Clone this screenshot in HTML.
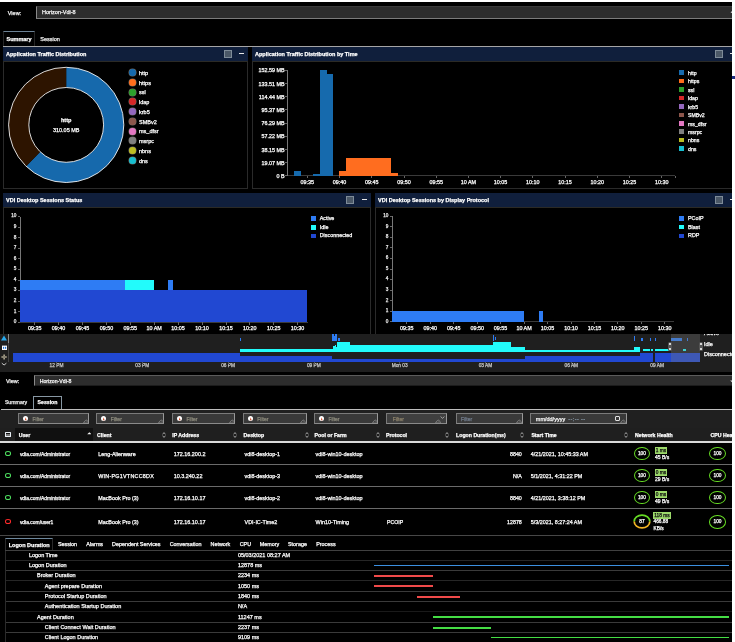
<!DOCTYPE html>
<html><head><meta charset="utf-8"><title>Horizon VDI</title>
<style>
html,body{margin:0;padding:0;background:#000;}
body{width:735px;height:642px;overflow:hidden;position:relative;font-family:'Liberation Sans', Arial, sans-serif;}
.t{position:absolute;white-space:nowrap;-webkit-text-stroke:0.25px currentColor;}
.r{position:absolute;}
</style></head><body>
<div class="t" style="top:9.33px;font-size:5.5px;line-height:8px;color:#f2f2f2;left:7.80px;">View:</div>
<div class="r" style="left:36.00px;top:6.00px;width:696.00px;height:13.00px;background:#2d2d2d;border-left:1px solid #8a8a8a;border-bottom:1px solid #7c7c7c;border-top:1px solid #3a3a3a;box-sizing:border-box;"></div>
<div class="t" style="top:8.03px;font-size:5.5px;line-height:8px;color:#f4f4f4;left:42.00px;">Horizon-Vdi-8</div>
<div class="r" style="left:3.00px;top:31.00px;width:32.00px;height:16.00px;background:#000;border-top:1px solid #6b8194;border-left:1px solid #252525;border-right:1px solid #252525;box-sizing:border-box;"></div>
<div class="t" style="top:35.33px;font-size:5.5px;line-height:8px;color:#fff;font-weight:bold;left:19.00px;transform:translateX(-50%);">Summary</div>
<div class="t" style="top:35.33px;font-size:5.5px;line-height:8px;color:#eee;left:40.30px;">Session</div>
<div class="r" style="left:3.00px;top:46.00px;width:729.00px;height:1.00px;background:#a5a5a5;"></div>
<div class="r" style="left:3.00px;top:47.00px;width:245.00px;height:141.50px;background:#000;border:1px solid #2a2a2a;box-sizing:border-box;"></div>
<div class="r" style="left:3.00px;top:47.00px;width:245.00px;height:14.60px;background:#101f3c;border-bottom:1px solid #2b2a25;box-sizing:border-box;"></div>
<div class="t" style="top:50.13px;font-size:5.5px;line-height:8px;color:#fff;font-weight:bold;left:6.00px;">Application Traffic Distribution</div>
<div class="r" style="left:223.50px;top:50.00px;width:8.00px;height:8.00px;background:#4b5867;border:1px solid #7e8b98;box-sizing:border-box;"></div>
<div class="r" style="left:239.00px;top:53.20px;width:5.00px;height:1.20px;background:#e8e8e8;"></div>
<div class="r" style="left:252.00px;top:47.00px;width:487.00px;height:141.50px;background:#000;border:1px solid #2a2a2a;box-sizing:border-box;"></div>
<div class="r" style="left:252.00px;top:47.00px;width:487.00px;height:14.60px;background:#101f3c;border-bottom:1px solid #2b2a25;box-sizing:border-box;"></div>
<div class="t" style="top:50.13px;font-size:5.5px;line-height:8px;color:#fff;font-weight:bold;left:255.00px;">Application Traffic Distribution by Time</div>
<div class="r" style="left:714.50px;top:50.00px;width:8.00px;height:8.00px;background:#4b5867;border:1px solid #7e8b98;box-sizing:border-box;"></div>
<div class="r" style="left:730.00px;top:53.20px;width:5.00px;height:1.20px;background:#e8e8e8;"></div>
<div class="r" style="left:3.00px;top:193.00px;width:367.50px;height:141.00px;background:#000;border:1px solid #2a2a2a;box-sizing:border-box;border-bottom:none;"></div>
<div class="r" style="left:3.00px;top:193.00px;width:367.50px;height:14.60px;background:#101f3c;border-bottom:1px solid #2b2a25;box-sizing:border-box;"></div>
<div class="t" style="top:196.13px;font-size:5.5px;line-height:8px;color:#fff;font-weight:bold;left:6.00px;">VDI Desktop Sessions Status</div>
<div class="r" style="left:346.00px;top:196.00px;width:8.00px;height:8.00px;background:#4b5867;border:1px solid #7e8b98;box-sizing:border-box;"></div>
<div class="r" style="left:361.50px;top:199.20px;width:5.00px;height:1.20px;background:#e8e8e8;"></div>
<div class="r" style="left:375.00px;top:193.00px;width:364.00px;height:141.00px;background:#000;border:1px solid #2a2a2a;box-sizing:border-box;border-bottom:none;"></div>
<div class="r" style="left:375.00px;top:193.00px;width:364.00px;height:14.60px;background:#101f3c;border-bottom:1px solid #2b2a25;box-sizing:border-box;"></div>
<div class="t" style="top:196.13px;font-size:5.5px;line-height:8px;color:#fff;font-weight:bold;left:378.00px;">VDI Desktop Sessions by Display Protocol</div>
<div class="r" style="left:714.50px;top:196.00px;width:8.00px;height:8.00px;background:#4b5867;border:1px solid #7e8b98;box-sizing:border-box;"></div>
<div class="r" style="left:730.00px;top:199.20px;width:5.00px;height:1.20px;background:#e8e8e8;"></div>
<svg class="r" style="left:0;top:0" width="735" height="642" viewBox="0 0 735 642"><path d="M66.20,67.30 A57.6,57.6 0 1 1 26.19,166.33 L40.22,151.80 A37.4,37.4 0 1 0 66.20,87.50 Z" fill="#1669ac"/><path d="M26.19,166.33 A57.6,57.6 0 0 1 66.20,67.30 L66.20,87.50 A37.4,37.4 0 0 0 40.22,151.80 Z" fill="#2d1400"/><circle cx="66.2" cy="124.9" r="57.6" fill="none" stroke="#f0f0f0" stroke-width="0.9"/><circle cx="66.2" cy="124.9" r="37.4" fill="none" stroke="#f0f0f0" stroke-width="0.9"/></svg>
<div class="t" style="top:115.63px;font-size:5.5px;line-height:8px;color:#fff;font-weight:bold;left:66.20px;transform:translateX(-50%);">http</div>
<div class="t" style="top:126.43px;font-size:5.5px;line-height:8px;color:#fff;left:66.20px;transform:translateX(-50%);">310.05 MB</div>
<div class="r" style="left:129.2px;top:69.05px;width:7px;height:7px;border-radius:50%;background:#166aae;box-shadow:0 0 0 0.5px rgba(235,225,210,0.45)"></div>
<div class="t" style="top:68.83px;font-size:5.5px;line-height:8px;color:#fff;left:139.00px;">http</div>
<div class="r" style="left:129.2px;top:78.81px;width:7px;height:7px;border-radius:50%;background:#ff6d1c;box-shadow:0 0 0 0.5px rgba(235,225,210,0.45)"></div>
<div class="t" style="top:78.59px;font-size:5.5px;line-height:8px;color:#fff;left:139.00px;">https</div>
<div class="r" style="left:129.2px;top:88.57px;width:7px;height:7px;border-radius:50%;background:#2ca02c;box-shadow:0 0 0 0.5px rgba(235,225,210,0.45)"></div>
<div class="t" style="top:88.35px;font-size:5.5px;line-height:8px;color:#fff;left:139.00px;">ssl</div>
<div class="r" style="left:129.2px;top:98.33px;width:7px;height:7px;border-radius:50%;background:#d62728;box-shadow:0 0 0 0.5px rgba(235,225,210,0.45)"></div>
<div class="t" style="top:98.11px;font-size:5.5px;line-height:8px;color:#fff;left:139.00px;">ldap</div>
<div class="r" style="left:129.2px;top:108.09px;width:7px;height:7px;border-radius:50%;background:#9467bd;box-shadow:0 0 0 0.5px rgba(235,225,210,0.45)"></div>
<div class="t" style="top:107.87px;font-size:5.5px;line-height:8px;color:#fff;left:139.00px;">krb5</div>
<div class="r" style="left:129.2px;top:117.85px;width:7px;height:7px;border-radius:50%;background:#8c564b;box-shadow:0 0 0 0.5px rgba(235,225,210,0.45)"></div>
<div class="t" style="top:117.63px;font-size:5.5px;line-height:8px;color:#fff;left:139.00px;">SMBv2</div>
<div class="r" style="left:129.2px;top:127.61px;width:7px;height:7px;border-radius:50%;background:#e377c2;box-shadow:0 0 0 0.5px rgba(235,225,210,0.45)"></div>
<div class="t" style="top:127.39px;font-size:5.5px;line-height:8px;color:#fff;left:139.00px;">ms_dfsr</div>
<div class="r" style="left:129.2px;top:137.37px;width:7px;height:7px;border-radius:50%;background:#7f7f7f;box-shadow:0 0 0 0.5px rgba(235,225,210,0.45)"></div>
<div class="t" style="top:137.15px;font-size:5.5px;line-height:8px;color:#fff;left:139.00px;">msrpc</div>
<div class="r" style="left:129.2px;top:147.13px;width:7px;height:7px;border-radius:50%;background:#bcbd22;box-shadow:0 0 0 0.5px rgba(235,225,210,0.45)"></div>
<div class="t" style="top:146.91px;font-size:5.5px;line-height:8px;color:#fff;left:139.00px;">nbns</div>
<div class="r" style="left:129.2px;top:156.89px;width:7px;height:7px;border-radius:50%;background:#17becf;box-shadow:0 0 0 0.5px rgba(235,225,210,0.45)"></div>
<div class="t" style="top:156.67px;font-size:5.5px;line-height:8px;color:#fff;left:139.00px;">dns</div>
<div class="t" style="top:172.12px;font-size:5.4px;line-height:8px;color:#fff;right:450.50px;">0 B</div>
<div class="r" style="left:285.20px;top:175.40px;width:2.50px;height:0.80px;background:#666;"></div>
<div class="t" style="top:158.91px;font-size:5.4px;line-height:8px;color:#fff;right:450.50px;">19.07 MB</div>
<div class="r" style="left:285.20px;top:162.19px;width:2.50px;height:0.80px;background:#666;"></div>
<div class="t" style="top:145.70px;font-size:5.4px;line-height:8px;color:#fff;right:450.50px;">38.15 MB</div>
<div class="r" style="left:285.20px;top:148.97px;width:2.50px;height:0.80px;background:#666;"></div>
<div class="t" style="top:132.49px;font-size:5.4px;line-height:8px;color:#fff;right:450.50px;">57.22 MB</div>
<div class="r" style="left:285.20px;top:135.76px;width:2.50px;height:0.80px;background:#666;"></div>
<div class="t" style="top:119.27px;font-size:5.4px;line-height:8px;color:#fff;right:450.50px;">76.29 MB</div>
<div class="r" style="left:285.20px;top:122.55px;width:2.50px;height:0.80px;background:#666;"></div>
<div class="t" style="top:106.06px;font-size:5.4px;line-height:8px;color:#fff;right:450.50px;">95.37 MB</div>
<div class="r" style="left:285.20px;top:109.34px;width:2.50px;height:0.80px;background:#666;"></div>
<div class="t" style="top:92.85px;font-size:5.4px;line-height:8px;color:#fff;right:450.50px;">114.44 MB</div>
<div class="r" style="left:285.20px;top:96.12px;width:2.50px;height:0.80px;background:#666;"></div>
<div class="t" style="top:79.64px;font-size:5.4px;line-height:8px;color:#fff;right:450.50px;">133.51 MB</div>
<div class="r" style="left:285.20px;top:82.91px;width:2.50px;height:0.80px;background:#666;"></div>
<div class="t" style="top:66.42px;font-size:5.4px;line-height:8px;color:#fff;right:450.50px;">152.59 MB</div>
<div class="r" style="left:285.20px;top:69.70px;width:2.50px;height:0.80px;background:#666;"></div>
<div class="r" style="left:287.20px;top:70.10px;width:1.00px;height:106.20px;background:#777;"></div>
<div class="r" style="left:287.70px;top:175.30px;width:387.80px;height:1.00px;background:#3a3a3a;"></div>
<div class="t" style="top:178.32px;font-size:5.4px;line-height:8px;color:#fff;left:307.30px;transform:translateX(-50%);">09:35</div>
<div class="r" style="left:306.90px;top:175.80px;width:0.80px;height:2.50px;background:#666;"></div>
<div class="t" style="top:178.32px;font-size:5.4px;line-height:8px;color:#fff;left:339.52px;transform:translateX(-50%);">09:40</div>
<div class="r" style="left:339.12px;top:175.80px;width:0.80px;height:2.50px;background:#666;"></div>
<div class="t" style="top:178.32px;font-size:5.4px;line-height:8px;color:#fff;left:371.74px;transform:translateX(-50%);">09:45</div>
<div class="r" style="left:371.34px;top:175.80px;width:0.80px;height:2.50px;background:#666;"></div>
<div class="t" style="top:178.32px;font-size:5.4px;line-height:8px;color:#fff;left:403.96px;transform:translateX(-50%);">09:50</div>
<div class="r" style="left:403.56px;top:175.80px;width:0.80px;height:2.50px;background:#666;"></div>
<div class="t" style="top:178.32px;font-size:5.4px;line-height:8px;color:#fff;left:436.18px;transform:translateX(-50%);">09:55</div>
<div class="r" style="left:435.78px;top:175.80px;width:0.80px;height:2.50px;background:#666;"></div>
<div class="t" style="top:178.32px;font-size:5.4px;line-height:8px;color:#fff;left:468.40px;transform:translateX(-50%);">10 AM</div>
<div class="r" style="left:468.00px;top:175.80px;width:0.80px;height:2.50px;background:#666;"></div>
<div class="t" style="top:178.32px;font-size:5.4px;line-height:8px;color:#fff;left:500.62px;transform:translateX(-50%);">10:05</div>
<div class="r" style="left:500.22px;top:175.80px;width:0.80px;height:2.50px;background:#666;"></div>
<div class="t" style="top:178.32px;font-size:5.4px;line-height:8px;color:#fff;left:532.84px;transform:translateX(-50%);">10:10</div>
<div class="r" style="left:532.44px;top:175.80px;width:0.80px;height:2.50px;background:#666;"></div>
<div class="t" style="top:178.32px;font-size:5.4px;line-height:8px;color:#fff;left:565.06px;transform:translateX(-50%);">10:15</div>
<div class="r" style="left:564.66px;top:175.80px;width:0.80px;height:2.50px;background:#666;"></div>
<div class="t" style="top:178.32px;font-size:5.4px;line-height:8px;color:#fff;left:597.28px;transform:translateX(-50%);">10:20</div>
<div class="r" style="left:596.88px;top:175.80px;width:0.80px;height:2.50px;background:#666;"></div>
<div class="t" style="top:178.32px;font-size:5.4px;line-height:8px;color:#fff;left:629.50px;transform:translateX(-50%);">10:25</div>
<div class="r" style="left:629.10px;top:175.80px;width:0.80px;height:2.50px;background:#666;"></div>
<div class="t" style="top:178.32px;font-size:5.4px;line-height:8px;color:#fff;left:661.72px;transform:translateX(-50%);">10:30</div>
<div class="r" style="left:661.32px;top:175.80px;width:0.80px;height:2.50px;background:#666;"></div>
<div class="r" style="left:675.10px;top:175.80px;width:0.80px;height:2.50px;background:#666;"></div>
<div class="r" style="left:293.80px;top:170.80px;width:7.10px;height:5.00px;background:#166aad;"></div>
<div class="r" style="left:313.40px;top:174.40px;width:6.70px;height:1.40px;background:#166aad;"></div>
<div class="r" style="left:320.10px;top:69.70px;width:6.50px;height:106.10px;background:#166aad;"></div>
<div class="r" style="left:326.60px;top:73.80px;width:6.50px;height:102.00px;background:#166aad;"></div>
<div class="r" style="left:339.10px;top:171.00px;width:6.90px;height:4.80px;background:#ff6d1f;"></div>
<div class="r" style="left:346.00px;top:158.00px;width:45.00px;height:17.80px;background:#ff6d1f;"></div>
<div class="r" style="left:391.00px;top:172.80px;width:6.90px;height:3.00px;background:#ff6d1f;"></div>
<div class="r" style="left:679.20px;top:70.40px;width:4.60px;height:4.60px;background:#166aae;"></div>
<div class="t" style="top:69.01px;font-size:5.2px;line-height:8px;color:#fff;left:688.00px;">http</div>
<div class="r" style="left:679.20px;top:78.82px;width:4.60px;height:4.60px;background:#ff6d1c;"></div>
<div class="t" style="top:77.43px;font-size:5.2px;line-height:8px;color:#fff;left:688.00px;">https</div>
<div class="r" style="left:679.20px;top:87.24px;width:4.60px;height:4.60px;background:#2ca02c;"></div>
<div class="t" style="top:85.85px;font-size:5.2px;line-height:8px;color:#fff;left:688.00px;">ssl</div>
<div class="r" style="left:679.20px;top:95.66px;width:4.60px;height:4.60px;background:#d62728;"></div>
<div class="t" style="top:94.27px;font-size:5.2px;line-height:8px;color:#fff;left:688.00px;">ldap</div>
<div class="r" style="left:679.20px;top:104.08px;width:4.60px;height:4.60px;background:#9467bd;"></div>
<div class="t" style="top:102.69px;font-size:5.2px;line-height:8px;color:#fff;left:688.00px;">krb5</div>
<div class="r" style="left:679.20px;top:112.50px;width:4.60px;height:4.60px;background:#8c564b;"></div>
<div class="t" style="top:111.11px;font-size:5.2px;line-height:8px;color:#fff;left:688.00px;">SMBv2</div>
<div class="r" style="left:679.20px;top:120.92px;width:4.60px;height:4.60px;background:#e377c2;"></div>
<div class="t" style="top:119.53px;font-size:5.2px;line-height:8px;color:#fff;left:688.00px;">ms_dfsr</div>
<div class="r" style="left:679.20px;top:129.34px;width:4.60px;height:4.60px;background:#7f7f7f;"></div>
<div class="t" style="top:127.95px;font-size:5.2px;line-height:8px;color:#fff;left:688.00px;">msrpc</div>
<div class="r" style="left:679.20px;top:137.76px;width:4.60px;height:4.60px;background:#bcbd22;"></div>
<div class="t" style="top:136.37px;font-size:5.2px;line-height:8px;color:#fff;left:688.00px;">nbns</div>
<div class="r" style="left:679.20px;top:146.18px;width:4.60px;height:4.60px;background:#17becf;"></div>
<div class="t" style="top:144.79px;font-size:5.2px;line-height:8px;color:#fff;left:688.00px;">dns</div>
<div class="t" style="top:318.08px;font-size:4.7px;line-height:8px;color:#e8e8e8;right:718.60px;">0</div>
<div class="r" style="left:17.60px;top:321.80px;width:2.50px;height:0.80px;background:#666;"></div>
<div class="t" style="top:307.51px;font-size:4.7px;line-height:8px;color:#e8e8e8;right:718.60px;">1</div>
<div class="r" style="left:17.60px;top:311.23px;width:2.50px;height:0.80px;background:#666;"></div>
<div class="t" style="top:296.94px;font-size:4.7px;line-height:8px;color:#e8e8e8;right:718.60px;">2</div>
<div class="r" style="left:17.60px;top:300.66px;width:2.50px;height:0.80px;background:#666;"></div>
<div class="t" style="top:286.37px;font-size:4.7px;line-height:8px;color:#e8e8e8;right:718.60px;">3</div>
<div class="r" style="left:17.60px;top:290.09px;width:2.50px;height:0.80px;background:#666;"></div>
<div class="t" style="top:275.80px;font-size:4.7px;line-height:8px;color:#e8e8e8;right:718.60px;">4</div>
<div class="r" style="left:17.60px;top:279.52px;width:2.50px;height:0.80px;background:#666;"></div>
<div class="t" style="top:265.23px;font-size:4.7px;line-height:8px;color:#e8e8e8;right:718.60px;">5</div>
<div class="r" style="left:17.60px;top:268.95px;width:2.50px;height:0.80px;background:#666;"></div>
<div class="t" style="top:254.66px;font-size:4.7px;line-height:8px;color:#e8e8e8;right:718.60px;">6</div>
<div class="r" style="left:17.60px;top:258.38px;width:2.50px;height:0.80px;background:#666;"></div>
<div class="t" style="top:244.09px;font-size:4.7px;line-height:8px;color:#e8e8e8;right:718.60px;">7</div>
<div class="r" style="left:17.60px;top:247.81px;width:2.50px;height:0.80px;background:#666;"></div>
<div class="t" style="top:233.52px;font-size:4.7px;line-height:8px;color:#e8e8e8;right:718.60px;">8</div>
<div class="r" style="left:17.60px;top:237.24px;width:2.50px;height:0.80px;background:#666;"></div>
<div class="t" style="top:222.95px;font-size:4.7px;line-height:8px;color:#e8e8e8;right:718.60px;">9</div>
<div class="r" style="left:17.60px;top:226.67px;width:2.50px;height:0.80px;background:#666;"></div>
<div class="t" style="top:212.38px;font-size:4.7px;line-height:8px;color:#e8e8e8;right:718.60px;">10</div>
<div class="r" style="left:17.60px;top:216.10px;width:2.50px;height:0.80px;background:#666;"></div>
<div class="r" style="left:19.60px;top:216.50px;width:1.00px;height:106.20px;background:#777;"></div>
<div class="r" style="left:20.10px;top:321.70px;width:287.90px;height:1.00px;background:#3a3a3a;"></div>
<div class="t" style="top:324.02px;font-size:5.4px;line-height:8px;color:#fff;left:34.70px;transform:translateX(-50%);">09:35</div>
<div class="r" style="left:34.30px;top:322.20px;width:0.80px;height:2.50px;background:#666;"></div>
<div class="t" style="top:324.02px;font-size:5.4px;line-height:8px;color:#fff;left:58.60px;transform:translateX(-50%);">09:40</div>
<div class="r" style="left:58.20px;top:322.20px;width:0.80px;height:2.50px;background:#666;"></div>
<div class="t" style="top:324.02px;font-size:5.4px;line-height:8px;color:#fff;left:82.50px;transform:translateX(-50%);">09:45</div>
<div class="r" style="left:82.10px;top:322.20px;width:0.80px;height:2.50px;background:#666;"></div>
<div class="t" style="top:324.02px;font-size:5.4px;line-height:8px;color:#fff;left:106.40px;transform:translateX(-50%);">09:50</div>
<div class="r" style="left:106.00px;top:322.20px;width:0.80px;height:2.50px;background:#666;"></div>
<div class="t" style="top:324.02px;font-size:5.4px;line-height:8px;color:#fff;left:130.30px;transform:translateX(-50%);">09:55</div>
<div class="r" style="left:129.90px;top:322.20px;width:0.80px;height:2.50px;background:#666;"></div>
<div class="t" style="top:324.02px;font-size:5.4px;line-height:8px;color:#fff;left:154.20px;transform:translateX(-50%);">10 AM</div>
<div class="r" style="left:153.80px;top:322.20px;width:0.80px;height:2.50px;background:#666;"></div>
<div class="t" style="top:324.02px;font-size:5.4px;line-height:8px;color:#fff;left:178.10px;transform:translateX(-50%);">10:05</div>
<div class="r" style="left:177.70px;top:322.20px;width:0.80px;height:2.50px;background:#666;"></div>
<div class="t" style="top:324.02px;font-size:5.4px;line-height:8px;color:#fff;left:202.00px;transform:translateX(-50%);">10:10</div>
<div class="r" style="left:201.60px;top:322.20px;width:0.80px;height:2.50px;background:#666;"></div>
<div class="t" style="top:324.02px;font-size:5.4px;line-height:8px;color:#fff;left:225.90px;transform:translateX(-50%);">10:15</div>
<div class="r" style="left:225.50px;top:322.20px;width:0.80px;height:2.50px;background:#666;"></div>
<div class="t" style="top:324.02px;font-size:5.4px;line-height:8px;color:#fff;left:249.80px;transform:translateX(-50%);">10:20</div>
<div class="r" style="left:249.40px;top:322.20px;width:0.80px;height:2.50px;background:#666;"></div>
<div class="t" style="top:324.02px;font-size:5.4px;line-height:8px;color:#fff;left:273.70px;transform:translateX(-50%);">10:25</div>
<div class="r" style="left:273.30px;top:322.20px;width:0.80px;height:2.50px;background:#666;"></div>
<div class="t" style="top:324.02px;font-size:5.4px;line-height:8px;color:#fff;left:297.60px;transform:translateX(-50%);">10:30</div>
<div class="r" style="left:297.20px;top:322.20px;width:0.80px;height:2.50px;background:#666;"></div>
<div class="r" style="left:20.10px;top:290.10px;width:286.70px;height:32.10px;background:#2148d2;"></div>
<div class="r" style="left:20.10px;top:280.00px;width:104.90px;height:10.10px;background:#2e7cf4;"></div>
<div class="r" style="left:125.00px;top:280.00px;width:28.90px;height:10.10px;background:#22fbfb;"></div>
<div class="r" style="left:168.20px;top:280.00px;width:4.70px;height:10.10px;background:#2e7cf4;"></div>
<div class="r" style="left:311.00px;top:216.40px;width:4.50px;height:4.50px;background:#2e7cf4;"></div>
<div class="t" style="top:214.22px;font-size:5.4px;line-height:8px;color:#fff;left:319.70px;">Active</div>
<div class="r" style="left:311.00px;top:225.00px;width:4.50px;height:4.50px;background:#22fbfb;"></div>
<div class="t" style="top:222.82px;font-size:5.4px;line-height:8px;color:#fff;left:319.70px;">Idle</div>
<div class="r" style="left:311.00px;top:233.60px;width:4.50px;height:4.50px;background:#2148d2;"></div>
<div class="t" style="top:231.42px;font-size:5.4px;line-height:8px;color:#fff;left:319.70px;">Disconnected</div>
<div class="t" style="top:317.68px;font-size:4.7px;line-height:8px;color:#e8e8e8;right:346.60px;">0</div>
<div class="r" style="left:389.70px;top:321.40px;width:2.50px;height:0.80px;background:#666;"></div>
<div class="t" style="top:307.12px;font-size:4.7px;line-height:8px;color:#e8e8e8;right:346.60px;">1</div>
<div class="r" style="left:389.70px;top:310.84px;width:2.50px;height:0.80px;background:#666;"></div>
<div class="t" style="top:296.56px;font-size:4.7px;line-height:8px;color:#e8e8e8;right:346.60px;">2</div>
<div class="r" style="left:389.70px;top:300.28px;width:2.50px;height:0.80px;background:#666;"></div>
<div class="t" style="top:286.00px;font-size:4.7px;line-height:8px;color:#e8e8e8;right:346.60px;">3</div>
<div class="r" style="left:389.70px;top:289.72px;width:2.50px;height:0.80px;background:#666;"></div>
<div class="t" style="top:275.44px;font-size:4.7px;line-height:8px;color:#e8e8e8;right:346.60px;">4</div>
<div class="r" style="left:389.70px;top:279.16px;width:2.50px;height:0.80px;background:#666;"></div>
<div class="t" style="top:264.88px;font-size:4.7px;line-height:8px;color:#e8e8e8;right:346.60px;">5</div>
<div class="r" style="left:389.70px;top:268.60px;width:2.50px;height:0.80px;background:#666;"></div>
<div class="t" style="top:254.32px;font-size:4.7px;line-height:8px;color:#e8e8e8;right:346.60px;">6</div>
<div class="r" style="left:389.70px;top:258.04px;width:2.50px;height:0.80px;background:#666;"></div>
<div class="t" style="top:243.76px;font-size:4.7px;line-height:8px;color:#e8e8e8;right:346.60px;">7</div>
<div class="r" style="left:389.70px;top:247.48px;width:2.50px;height:0.80px;background:#666;"></div>
<div class="t" style="top:233.20px;font-size:4.7px;line-height:8px;color:#e8e8e8;right:346.60px;">8</div>
<div class="r" style="left:389.70px;top:236.92px;width:2.50px;height:0.80px;background:#666;"></div>
<div class="t" style="top:222.64px;font-size:4.7px;line-height:8px;color:#e8e8e8;right:346.60px;">9</div>
<div class="r" style="left:389.70px;top:226.36px;width:2.50px;height:0.80px;background:#666;"></div>
<div class="t" style="top:212.08px;font-size:4.7px;line-height:8px;color:#e8e8e8;right:346.60px;">10</div>
<div class="r" style="left:389.70px;top:215.80px;width:2.50px;height:0.80px;background:#666;"></div>
<div class="r" style="left:391.70px;top:216.20px;width:1.00px;height:106.10px;background:#777;"></div>
<div class="r" style="left:392.20px;top:321.30px;width:281.80px;height:1.00px;background:#3a3a3a;"></div>
<div class="t" style="top:323.62px;font-size:5.4px;line-height:8px;color:#fff;left:406.80px;transform:translateX(-50%);">09:35</div>
<div class="r" style="left:406.40px;top:321.80px;width:0.80px;height:2.50px;background:#666;"></div>
<div class="t" style="top:323.62px;font-size:5.4px;line-height:8px;color:#fff;left:430.25px;transform:translateX(-50%);">09:40</div>
<div class="r" style="left:429.85px;top:321.80px;width:0.80px;height:2.50px;background:#666;"></div>
<div class="t" style="top:323.62px;font-size:5.4px;line-height:8px;color:#fff;left:453.70px;transform:translateX(-50%);">09:45</div>
<div class="r" style="left:453.30px;top:321.80px;width:0.80px;height:2.50px;background:#666;"></div>
<div class="t" style="top:323.62px;font-size:5.4px;line-height:8px;color:#fff;left:477.15px;transform:translateX(-50%);">09:50</div>
<div class="r" style="left:476.75px;top:321.80px;width:0.80px;height:2.50px;background:#666;"></div>
<div class="t" style="top:323.62px;font-size:5.4px;line-height:8px;color:#fff;left:500.60px;transform:translateX(-50%);">09:55</div>
<div class="r" style="left:500.20px;top:321.80px;width:0.80px;height:2.50px;background:#666;"></div>
<div class="t" style="top:323.62px;font-size:5.4px;line-height:8px;color:#fff;left:524.05px;transform:translateX(-50%);">10 AM</div>
<div class="r" style="left:523.65px;top:321.80px;width:0.80px;height:2.50px;background:#666;"></div>
<div class="t" style="top:323.62px;font-size:5.4px;line-height:8px;color:#fff;left:547.50px;transform:translateX(-50%);">10:05</div>
<div class="r" style="left:547.10px;top:321.80px;width:0.80px;height:2.50px;background:#666;"></div>
<div class="t" style="top:323.62px;font-size:5.4px;line-height:8px;color:#fff;left:570.95px;transform:translateX(-50%);">10:10</div>
<div class="r" style="left:570.55px;top:321.80px;width:0.80px;height:2.50px;background:#666;"></div>
<div class="t" style="top:323.62px;font-size:5.4px;line-height:8px;color:#fff;left:594.40px;transform:translateX(-50%);">10:15</div>
<div class="r" style="left:594.00px;top:321.80px;width:0.80px;height:2.50px;background:#666;"></div>
<div class="t" style="top:323.62px;font-size:5.4px;line-height:8px;color:#fff;left:617.85px;transform:translateX(-50%);">10:20</div>
<div class="r" style="left:617.45px;top:321.80px;width:0.80px;height:2.50px;background:#666;"></div>
<div class="t" style="top:323.62px;font-size:5.4px;line-height:8px;color:#fff;left:641.30px;transform:translateX(-50%);">10:25</div>
<div class="r" style="left:640.90px;top:321.80px;width:0.80px;height:2.50px;background:#666;"></div>
<div class="t" style="top:323.62px;font-size:5.4px;line-height:8px;color:#fff;left:664.75px;transform:translateX(-50%);">10:30</div>
<div class="r" style="left:664.35px;top:321.80px;width:0.80px;height:2.50px;background:#666;"></div>
<div class="r" style="left:392.20px;top:311.00px;width:131.90px;height:10.80px;background:#2e7cf4;"></div>
<div class="r" style="left:538.70px;top:311.00px;width:4.50px;height:10.80px;background:#2e7cf4;"></div>
<div class="r" style="left:679.30px;top:216.30px;width:4.50px;height:4.50px;background:#2e7cf4;"></div>
<div class="t" style="top:214.12px;font-size:5.4px;line-height:8px;color:#fff;left:688.00px;">PCoIP</div>
<div class="r" style="left:679.30px;top:224.90px;width:4.50px;height:4.50px;background:#22fbfb;"></div>
<div class="t" style="top:222.72px;font-size:5.4px;line-height:8px;color:#fff;left:688.00px;">Blast</div>
<div class="r" style="left:679.30px;top:233.50px;width:4.50px;height:4.50px;background:#2148d2;"></div>
<div class="t" style="top:231.32px;font-size:5.4px;line-height:8px;color:#fff;left:688.00px;">RDP</div>
<div class="r" style="left:0.00px;top:334.00px;width:732.00px;height:37.80px;background:#1f1f1f;"></div>
<div class="r" style="left:8.00px;top:334.00px;width:1.00px;height:28.00px;background:#444;"></div>
<div class="r" style="left:8.00px;top:334.00px;width:1.00px;height:9.00px;background:#8a8a8a;"></div>
<svg class="r" style="left:0;top:334px" width="10" height="34" viewBox="0 0 10 34"><path d="M1,6.5 L4,1.5 L7,6.5 Z" fill="#27a9ee"/><rect x="2" y="11.6" width="5" height="4.4" fill="#fff"/><rect x="3" y="12.8" width="1.2" height="2" fill="#1e6fd0"/><rect x="5" y="12.8" width="1.2" height="2" fill="#1e6fd0"/><path d="M1.4,23 L6.8,23 M4.1,20.4 L4.1,25.6" stroke="#f2e6c0" stroke-width="1.1"/><rect x="3.5" y="22.4" width="1.2" height="1.2" fill="#223"/><path d="M1.8,29.2 L4.1,31 L6.4,29.2" stroke="#ddd" stroke-width="0.9" fill="none"/></svg>
<div class="r" style="left:13.00px;top:352.90px;width:227.00px;height:8.90px;background:#2148d2;"></div>
<div class="r" style="left:240.00px;top:356.00px;width:92.00px;height:5.90px;background:#2148d2;"></div>
<div class="r" style="left:332.00px;top:358.90px;width:193.10px;height:3.00px;background:#2148d2;"></div>
<div class="r" style="left:525.10px;top:356.00px;width:114.90px;height:5.80px;background:#2148d2;"></div>
<div class="r" style="left:640.00px;top:353.20px;width:13.00px;height:8.60px;background:#2148d2;"></div>
<div class="r" style="left:655.00px;top:353.20px;width:45.00px;height:8.60px;background:#2148d2;"></div>
<div class="r" style="left:240.00px;top:349.00px;width:93.50px;height:2.90px;background:#22fbfb;"></div>
<div class="r" style="left:333.40px;top:345.50px;width:1.20px;height:6.40px;background:#22fbfb;"></div>
<div class="r" style="left:335.10px;top:344.50px;width:1.00px;height:7.40px;background:#22fbfb;"></div>
<div class="r" style="left:336.10px;top:346.50px;width:1.10px;height:5.40px;background:#22fbfb;"></div>
<div class="r" style="left:337.20px;top:342.30px;width:12.80px;height:9.60px;background:#22fbfb;"></div>
<div class="r" style="left:350.00px;top:344.80px;width:142.80px;height:6.80px;background:#22fbfb;"></div>
<div class="r" style="left:492.80px;top:342.30px;width:18.10px;height:9.30px;background:#22fbfb;"></div>
<div class="r" style="left:510.90px;top:347.00px;width:14.20px;height:4.60px;background:#22fbfb;"></div>
<div class="r" style="left:525.10px;top:349.50px;width:109.20px;height:2.10px;background:#22fbfb;"></div>
<div class="r" style="left:634.30px;top:347.10px;width:5.70px;height:4.50px;background:#22fbfb;"></div>
<div class="r" style="left:643.00px;top:349.40px;width:7.00px;height:2.00px;background:#22fbfb;"></div>
<div class="r" style="left:651.00px;top:349.40px;width:2.00px;height:2.00px;background:#22fbfb;"></div>
<div class="r" style="left:655.00px;top:349.40px;width:15.00px;height:2.00px;background:#22fbfb;"></div>
<div class="r" style="left:683.00px;top:349.40px;width:3.00px;height:2.00px;background:#22fbfb;"></div>
<div class="r" style="left:239.50px;top:337.50px;width:1.30px;height:3.00px;background:#2e7cf4;"></div>
<div class="r" style="left:331.90px;top:334.10px;width:2.00px;height:6.80px;background:#2e7cf4;"></div>
<div class="r" style="left:334.90px;top:334.10px;width:1.70px;height:6.80px;background:#2e7cf4;"></div>
<div class="r" style="left:333.90px;top:336.20px;width:1.00px;height:4.70px;background:#2e7cf4;"></div>
<div class="r" style="left:338.00px;top:337.90px;width:2.20px;height:3.00px;background:#2e7cf4;"></div>
<div class="r" style="left:492.50px;top:335.00px;width:1.50px;height:6.00px;background:#2e7cf4;"></div>
<div class="r" style="left:494.50px;top:337.00px;width:1.50px;height:3.00px;background:#2e7cf4;"></div>
<div class="r" style="left:633.80px;top:336.00px;width:1.20px;height:5.00px;background:#2e7cf4;"></div>
<div class="r" style="left:641.00px;top:338.00px;width:2.00px;height:3.00px;background:#2e7cf4;"></div>
<div class="r" style="left:650.00px;top:338.00px;width:1.00px;height:3.00px;background:#2e7cf4;"></div>
<div class="r" style="left:655.00px;top:338.00px;width:1.00px;height:3.00px;background:#2e7cf4;"></div>
<div class="r" style="left:671.00px;top:338.00px;width:11.00px;height:3.00px;background:#2e7cf4;"></div>
<div class="r" style="left:686.50px;top:338.00px;width:1.00px;height:3.00px;background:#2e7cf4;"></div>
<div class="r" style="left:670.80px;top:334.00px;width:29.20px;height:28.00px;background:rgba(120,120,120,0.33);"></div>
<div class="r" style="left:668.00px;top:342.40px;width:4.00px;height:8.60px;background:#555;border-radius:1.5px;"></div>
<div class="r" style="left:668.70px;top:343.20px;width:2.60px;height:2.00px;background:#fff;border-radius:1px;"></div>
<div class="r" style="left:668.70px;top:348.20px;width:2.60px;height:2.00px;background:#fff;border-radius:1px;"></div>
<div class="r" style="left:699.00px;top:342.40px;width:4.00px;height:8.60px;background:#555;border-radius:1.5px;"></div>
<div class="r" style="left:699.70px;top:343.20px;width:2.60px;height:2.00px;background:#fff;border-radius:1px;"></div>
<div class="r" style="left:699.70px;top:348.20px;width:2.60px;height:2.00px;background:#fff;border-radius:1px;"></div>
<div class="t" style="top:362.29px;font-size:4.8px;line-height:8px;color:#c4c4c4;left:56.50px;transform:translateX(-50%);">12 PM</div>
<div class="r" style="left:56.10px;top:362.00px;width:0.80px;height:2.00px;background:#555;"></div>
<div class="t" style="top:362.29px;font-size:4.8px;line-height:8px;color:#c4c4c4;left:142.30px;transform:translateX(-50%);">03 PM</div>
<div class="r" style="left:141.90px;top:362.00px;width:0.80px;height:2.00px;background:#555;"></div>
<div class="t" style="top:362.29px;font-size:4.8px;line-height:8px;color:#c4c4c4;left:228.10px;transform:translateX(-50%);">06 PM</div>
<div class="r" style="left:227.70px;top:362.00px;width:0.80px;height:2.00px;background:#555;"></div>
<div class="t" style="top:362.29px;font-size:4.8px;line-height:8px;color:#c4c4c4;left:313.90px;transform:translateX(-50%);">09 PM</div>
<div class="r" style="left:313.50px;top:362.00px;width:0.80px;height:2.00px;background:#555;"></div>
<div class="t" style="top:362.29px;font-size:4.8px;line-height:8px;color:#c4c4c4;left:399.70px;transform:translateX(-50%);">Mon 03</div>
<div class="r" style="left:399.30px;top:362.00px;width:0.80px;height:2.00px;background:#555;"></div>
<div class="t" style="top:362.29px;font-size:4.8px;line-height:8px;color:#c4c4c4;left:485.50px;transform:translateX(-50%);">03 AM</div>
<div class="r" style="left:485.10px;top:362.00px;width:0.80px;height:2.00px;background:#555;"></div>
<div class="t" style="top:362.29px;font-size:4.8px;line-height:8px;color:#c4c4c4;left:571.30px;transform:translateX(-50%);">06 AM</div>
<div class="r" style="left:570.90px;top:362.00px;width:0.80px;height:2.00px;background:#555;"></div>
<div class="t" style="top:362.29px;font-size:4.8px;line-height:8px;color:#c4c4c4;left:657.10px;transform:translateX(-50%);">09 AM</div>
<div class="r" style="left:656.70px;top:362.00px;width:0.80px;height:2.00px;background:#555;"></div>
<div class="r" style="left:700px;top:334px;width:40px;height:6px;overflow:hidden"><div class="t" style="left:4px;top:-4.8px;font-size:5.5px;line-height:8px;color:#fff">Active</div></div>
<div class="t" style="top:340.23px;font-size:5.5px;line-height:8px;color:#fff;left:704.00px;">Idle</div>
<div class="t" style="top:350.33px;font-size:5.5px;line-height:8px;color:#fff;left:704.00px;">Disconnected</div>
<div class="t" style="top:377.23px;font-size:5.5px;line-height:8px;color:#f2f2f2;left:6.00px;">View:</div>
<div class="r" style="left:34.10px;top:375.20px;width:697.90px;height:11.00px;background:#2d2d2d;border-left:1px solid #8a8a8a;border-bottom:1px solid #1c1c1c;border-top:1px solid #5c5c5c;box-sizing:border-box;"></div>
<div class="t" style="top:376.71px;font-size:5.2px;line-height:8px;color:#f4f4f4;left:39.70px;">Horizon-Vdi-8</div>
<div class="t" style="top:398.31px;font-size:5.2px;line-height:8px;color:#eee;left:4.90px;">Summary</div>
<div class="r" style="left:32.90px;top:396.30px;width:29.10px;height:13.20px;background:#000;border:1px solid #8797a3;border-bottom:none;box-sizing:border-box;"></div>
<div class="t" style="top:398.31px;font-size:5.2px;line-height:8px;color:#fff;font-weight:bold;left:47.50px;transform:translateX(-50%);">Session</div>
<div class="r" style="left:1.00px;top:409.00px;width:731.00px;height:1.00px;background:#bdbdbd;"></div>
<div class="r" style="left:0.00px;top:410.00px;width:732.00px;height:18.00px;background:#202020;"></div>
<div class="r" style="left:0.00px;top:428.00px;width:732.00px;height:13.30px;background:#1f1f1f;"></div>
<div class="r" style="left:15.00px;top:428.00px;width:78.00px;height:13.30px;background:#101010;"></div>
<div class="r" style="left:0.00px;top:441.30px;width:732.00px;height:1.30px;background:#d8d8d8;"></div>
<div class="r" style="left:18.10px;top:413.10px;width:71.00px;height:10.70px;background:#393939;border:1px solid #7a7a7a;border-right-color:#999;border-bottom-color:#8a8a8a;box-sizing:border-box;"></div>
<div class="r" style="left:22.70px;top:415.8px;width:5.4px;height:5.4px;border-radius:50%;background:#fff;"></div>
<svg class="r" style="left:22.70px;top:415.8px" width="5.4" height="5.4" viewBox="0 0 5.4 5.4"><path d="M1.9,4.2 L2.7,1.3 L3.5,4.2 Z" fill="#d0401a"/></svg>
<div class="t" style="top:414.50px;font-size:5.0px;line-height:8px;color:#8c8a7c;left:32.50px;">Filter</div>
<svg class="r" style="left:82.60px;top:419.2px" width="6" height="4.4" viewBox="0 0 6 4.4"><path d="M0.5,4 Q1.5,1.6 3.6,0.9 Q4.5,2 5.5,3.3 L5.5,4 Z" fill="none" stroke="#9a9a9a" stroke-width="0.6"/><path d="M2.6,2.2 L3.7,1.4 L4.4,2.4 Z" fill="#777"/></svg>
<div class="r" style="left:96.30px;top:413.10px;width:68.00px;height:10.70px;background:#393939;border:1px solid #7a7a7a;border-right-color:#999;border-bottom-color:#8a8a8a;box-sizing:border-box;"></div>
<div class="r" style="left:100.90px;top:415.8px;width:5.4px;height:5.4px;border-radius:50%;background:#fff;"></div>
<svg class="r" style="left:100.90px;top:415.8px" width="5.4" height="5.4" viewBox="0 0 5.4 5.4"><path d="M1.9,4.2 L2.7,1.3 L3.5,4.2 Z" fill="#d0401a"/></svg>
<div class="t" style="top:414.50px;font-size:5.0px;line-height:8px;color:#8c8a7c;left:110.70px;">Filter</div>
<svg class="r" style="left:157.80px;top:419.2px" width="6" height="4.4" viewBox="0 0 6 4.4"><path d="M0.5,4 Q1.5,1.6 3.6,0.9 Q4.5,2 5.5,3.3 L5.5,4 Z" fill="none" stroke="#9a9a9a" stroke-width="0.6"/><path d="M2.6,2.2 L3.7,1.4 L4.4,2.4 Z" fill="#777"/></svg>
<div class="r" style="left:172.00px;top:413.10px;width:63.20px;height:10.70px;background:#393939;border:1px solid #7a7a7a;border-right-color:#999;border-bottom-color:#8a8a8a;box-sizing:border-box;"></div>
<div class="r" style="left:176.60px;top:415.8px;width:5.4px;height:5.4px;border-radius:50%;background:#fff;"></div>
<svg class="r" style="left:176.60px;top:415.8px" width="5.4" height="5.4" viewBox="0 0 5.4 5.4"><path d="M1.9,4.2 L2.7,1.3 L3.5,4.2 Z" fill="#d0401a"/></svg>
<div class="t" style="top:414.50px;font-size:5.0px;line-height:8px;color:#8c8a7c;left:186.40px;">Filter</div>
<svg class="r" style="left:228.70px;top:419.2px" width="6" height="4.4" viewBox="0 0 6 4.4"><path d="M0.5,4 Q1.5,1.6 3.6,0.9 Q4.5,2 5.5,3.3 L5.5,4 Z" fill="none" stroke="#9a9a9a" stroke-width="0.6"/><path d="M2.6,2.2 L3.7,1.4 L4.4,2.4 Z" fill="#777"/></svg>
<div class="r" style="left:242.90px;top:413.10px;width:64.00px;height:10.70px;background:#393939;border:1px solid #7a7a7a;border-right-color:#999;border-bottom-color:#8a8a8a;box-sizing:border-box;"></div>
<div class="r" style="left:247.50px;top:415.8px;width:5.4px;height:5.4px;border-radius:50%;background:#fff;"></div>
<svg class="r" style="left:247.50px;top:415.8px" width="5.4" height="5.4" viewBox="0 0 5.4 5.4"><path d="M1.9,4.2 L2.7,1.3 L3.5,4.2 Z" fill="#d0401a"/></svg>
<div class="t" style="top:414.50px;font-size:5.0px;line-height:8px;color:#8c8a7c;left:257.30px;">Filter</div>
<svg class="r" style="left:300.40px;top:419.2px" width="6" height="4.4" viewBox="0 0 6 4.4"><path d="M0.5,4 Q1.5,1.6 3.6,0.9 Q4.5,2 5.5,3.3 L5.5,4 Z" fill="none" stroke="#9a9a9a" stroke-width="0.6"/><path d="M2.6,2.2 L3.7,1.4 L4.4,2.4 Z" fill="#777"/></svg>
<div class="r" style="left:314.00px;top:413.10px;width:64.00px;height:10.70px;background:#393939;border:1px solid #7a7a7a;border-right-color:#999;border-bottom-color:#8a8a8a;box-sizing:border-box;"></div>
<div class="r" style="left:318.60px;top:415.8px;width:5.4px;height:5.4px;border-radius:50%;background:#fff;"></div>
<svg class="r" style="left:318.60px;top:415.8px" width="5.4" height="5.4" viewBox="0 0 5.4 5.4"><path d="M1.9,4.2 L2.7,1.3 L3.5,4.2 Z" fill="#d0401a"/></svg>
<div class="t" style="top:414.50px;font-size:5.0px;line-height:8px;color:#8c8a7c;left:328.40px;">Filter</div>
<svg class="r" style="left:371.50px;top:419.2px" width="6" height="4.4" viewBox="0 0 6 4.4"><path d="M0.5,4 Q1.5,1.6 3.6,0.9 Q4.5,2 5.5,3.3 L5.5,4 Z" fill="none" stroke="#9a9a9a" stroke-width="0.6"/><path d="M2.6,2.2 L3.7,1.4 L4.4,2.4 Z" fill="#777"/></svg>
<div class="r" style="left:385.80px;top:413.10px;width:61.20px;height:10.70px;background:#3f3f3f;border:1px solid #7a7a7a;border-right-color:#999;border-bottom-color:#8a8a8a;box-sizing:border-box;"></div>
<div class="t" style="top:414.50px;font-size:5.0px;line-height:8px;color:#8a806a;left:392.80px;">Filter</div>
<svg class="r" style="left:439.50px;top:416px" width="5" height="3" viewBox="0 0 5 3"><path d="M0.6,0.6 L2.5,2.3 L4.4,0.6" stroke="#bbb" stroke-width="0.8" fill="none"/></svg>
<svg class="r" style="left:435.00px;top:419.2px" width="6" height="4.4" viewBox="0 0 6 4.4"><path d="M0.5,4 Q1.5,1.6 3.6,0.9 Q4.5,2 5.5,3.3 L5.5,4 Z" fill="none" stroke="#9a9a9a" stroke-width="0.6"/><path d="M2.6,2.2 L3.7,1.4 L4.4,2.4 Z" fill="#777"/></svg>
<div class="r" style="left:456.10px;top:413.10px;width:66.80px;height:10.70px;background:#393939;border:1px solid #7a7a7a;border-right-color:#999;border-bottom-color:#8a8a8a;box-sizing:border-box;"></div>
<div class="t" style="top:414.50px;font-size:5.0px;line-height:8px;color:#717c8c;left:461.10px;">Filter</div>
<svg class="r" style="left:516.40px;top:419.2px" width="6" height="4.4" viewBox="0 0 6 4.4"><path d="M0.5,4 Q1.5,1.6 3.6,0.9 Q4.5,2 5.5,3.3 L5.5,4 Z" fill="none" stroke="#9a9a9a" stroke-width="0.6"/><path d="M2.6,2.2 L3.7,1.4 L4.4,2.4 Z" fill="#777"/></svg>
<div class="r" style="left:530.30px;top:413.10px;width:96.50px;height:10.70px;background:#393939;border:1px solid #7a7a7a;border-right-color:#999;border-bottom-color:#8a8a8a;box-sizing:border-box;"></div>
<div class="t" style="top:414.53px;font-size:5.5px;line-height:8px;color:#f4f4f4;left:535.80px;">mm/dd/yyyy</div>
<div class="t" style="top:414.53px;font-size:5.5px;line-height:8px;color:#8a9aa8;left:568.30px;letter-spacing:0.4px;">--:-- --</div>
<div class="r" style="left:614.50px;top:415.90px;width:5.50px;height:5.00px;background:transparent;border:0.9px solid #e0e0e0;border-top-width:1.4px;border-radius:1px;box-sizing:border-box;"></div>
<svg class="r" style="left:620.30px;top:419.2px" width="6" height="4.4" viewBox="0 0 6 4.4"><path d="M0.5,4 Q1.5,1.6 3.6,0.9 Q4.5,2 5.5,3.3 L5.5,4 Z" fill="none" stroke="#9a9a9a" stroke-width="0.6"/><path d="M2.6,2.2 L3.7,1.4 L4.4,2.4 Z" fill="#777"/></svg>
<div class="r" style="left:5.00px;top:431.80px;width:5.90px;height:4.80px;background:#777;border:0.9px solid #e8eef4;box-sizing:border-box;border-radius:0.6px;"></div>
<div class="r" style="left:5.90px;top:432.70px;width:4.10px;height:1.20px;background:#111;"></div>
<div class="t" style="top:430.91px;font-size:5.2px;line-height:8px;color:#fff;font-weight:bold;left:18.70px;">User</div>
<svg class="r" style="left:86.60px;top:432.2px" width="4.8" height="2.4" viewBox="0 0 4.8 2.4"><path d="M0.2,2.2 L2.4,0.3 L4.6,2.2 Z" fill="#f4f4f4"/></svg>
<div class="t" style="top:430.91px;font-size:5.2px;line-height:8px;color:#fff;font-weight:bold;left:97.00px;">Client</div>
<svg class="r" style="left:162.40px;top:431.6px" width="4" height="6" viewBox="0 0 4 6"><path d="M0.5,2.1 L2,0.7 L3.5,2.1 M0.5,3.9 L2,5.3 L3.5,3.9" stroke="#e6e6e6" stroke-width="0.75" fill="none"/></svg>
<div class="t" style="top:430.91px;font-size:5.2px;line-height:8px;color:#fff;font-weight:bold;left:172.30px;">IP Address</div>
<svg class="r" style="left:233.20px;top:431.6px" width="4" height="6" viewBox="0 0 4 6"><path d="M0.5,2.1 L2,0.7 L3.5,2.1 M0.5,3.9 L2,5.3 L3.5,3.9" stroke="#e6e6e6" stroke-width="0.75" fill="none"/></svg>
<div class="t" style="top:430.91px;font-size:5.2px;line-height:8px;color:#fff;font-weight:bold;left:243.60px;">Desktop</div>
<svg class="r" style="left:304.50px;top:431.6px" width="4" height="6" viewBox="0 0 4 6"><path d="M0.5,2.1 L2,0.7 L3.5,2.1 M0.5,3.9 L2,5.3 L3.5,3.9" stroke="#e6e6e6" stroke-width="0.75" fill="none"/></svg>
<div class="t" style="top:430.91px;font-size:5.2px;line-height:8px;color:#fff;font-weight:bold;left:314.60px;">Pool or Farm</div>
<svg class="r" style="left:376.00px;top:431.6px" width="4" height="6" viewBox="0 0 4 6"><path d="M0.5,2.1 L2,0.7 L3.5,2.1 M0.5,3.9 L2,5.3 L3.5,3.9" stroke="#e6e6e6" stroke-width="0.75" fill="none"/></svg>
<div class="t" style="top:430.91px;font-size:5.2px;line-height:8px;color:#fff;font-weight:bold;left:386.00px;">Protocol</div>
<svg class="r" style="left:445.00px;top:431.6px" width="4" height="6" viewBox="0 0 4 6"><path d="M0.5,2.1 L2,0.7 L3.5,2.1 M0.5,3.9 L2,5.3 L3.5,3.9" stroke="#e6e6e6" stroke-width="0.75" fill="none"/></svg>
<div class="t" style="top:430.91px;font-size:5.2px;line-height:8px;color:#fff;font-weight:bold;left:456.10px;">Logon Duration(ms)</div>
<svg class="r" style="left:520.40px;top:431.6px" width="4" height="6" viewBox="0 0 4 6"><path d="M0.5,2.1 L2,0.7 L3.5,2.1 M0.5,3.9 L2,5.3 L3.5,3.9" stroke="#e6e6e6" stroke-width="0.75" fill="none"/></svg>
<div class="t" style="top:430.91px;font-size:5.2px;line-height:8px;color:#fff;font-weight:bold;left:531.40px;">Start Time</div>
<svg class="r" style="left:624.40px;top:431.6px" width="4" height="6" viewBox="0 0 4 6"><path d="M0.5,2.1 L2,0.7 L3.5,2.1 M0.5,3.9 L2,5.3 L3.5,3.9" stroke="#e6e6e6" stroke-width="0.75" fill="none"/></svg>
<div class="t" style="top:430.91px;font-size:5.2px;line-height:8px;color:#fff;font-weight:bold;left:635.00px;">Network Health</div>
<div class="t" style="top:430.91px;font-size:5.2px;line-height:8px;color:#fff;font-weight:bold;left:710.60px;">CPU Health</div>
<div class="r" style="left:4.8px;top:451.05px;width:6.2px;height:4.9px;border-radius:50%;border:1.25px solid #4ee060;box-sizing:border-box;"></div>
<div class="t" style="top:450.85px;font-size:4.95px;line-height:8px;color:#fff;left:19.90px;">vdia.com/Administrator</div>
<div class="t" style="top:449.97px;font-size:5.4px;line-height:8px;color:#fff;left:98.20px;">Leng-Alienware</div>
<div class="t" style="top:449.98px;font-size:5.45px;line-height:8px;color:#fff;left:173.70px;">172.16.200.2</div>
<div class="t" style="top:449.97px;font-size:5.4px;line-height:8px;color:#fff;left:244.60px;">vdi8-desktop-1</div>
<div class="t" style="top:449.98px;font-size:5.45px;line-height:8px;color:#fff;left:315.60px;">vdi8-win10-desktop</div>
<div class="t" style="top:449.97px;font-size:5.3px;line-height:8px;color:#fff;right:213.20px;">8840</div>
<div class="t" style="top:449.97px;font-size:5.4px;line-height:8px;color:#fff;left:530.70px;">4/21/2021, 10:45:33 AM</div>
<div class="r" style="left:634.1px;top:446.95px;width:15.6px;height:13.2px;border-radius:50%;border:1.75px solid #66dc24;box-sizing:border-box;"></div>
<div class="t" style="top:449.84px;font-size:4.8px;line-height:8px;color:#fff;left:641.90px;transform:translateX(-50%);">100</div>
<div class="r" style="left:734px;top:0"></div>
<div class="r" style="left:709.2px;top:446.95px;width:16.6px;height:13.4px;border-radius:50%;border:1.75px solid #66dc24;box-sizing:border-box;"></div>
<div class="t" style="top:449.84px;font-size:4.8px;line-height:8px;color:#fff;left:717.50px;transform:translateX(-50%);">100</div>
<div class="r" style="left:655.00px;top:447.45px;width:11.60px;height:6.20px;background:#9cd96a;"></div>
<div class="t" style="top:446.74px;font-size:4.8px;line-height:8px;color:#111;left:660.90px;transform:translateX(-50%);">1 ms</div>
<div class="t" style="top:453.45px;font-size:5.0px;line-height:8px;color:#fff;left:655.00px;">45 B/s</div>
<div class="r" style="left:0.00px;top:464.00px;width:732.00px;height:1.10px;background:#6a6a6a;"></div>
<div class="r" style="left:4.8px;top:472.95px;width:6.2px;height:4.9px;border-radius:50%;border:1.25px solid #4ee060;box-sizing:border-box;"></div>
<div class="t" style="top:472.75px;font-size:4.95px;line-height:8px;color:#fff;left:19.90px;">vdia.com/Administrator</div>
<div class="t" style="top:471.87px;font-size:5.4px;line-height:8px;color:#fff;left:98.20px;letter-spacing:0.25px;">WIN-PG1VTNCC8DX</div>
<div class="t" style="top:471.88px;font-size:5.45px;line-height:8px;color:#fff;left:173.70px;">10.3.240.22</div>
<div class="t" style="top:471.87px;font-size:5.4px;line-height:8px;color:#fff;left:244.60px;">vdi8-desktop-3</div>
<div class="t" style="top:471.88px;font-size:5.45px;line-height:8px;color:#fff;left:315.60px;">vdi8-win10-desktop</div>
<div class="t" style="top:471.87px;font-size:5.3px;line-height:8px;color:#fff;right:213.20px;">N/A</div>
<div class="t" style="top:471.87px;font-size:5.4px;line-height:8px;color:#fff;left:530.70px;">5/1/2021, 4:31:22 PM</div>
<div class="r" style="left:634.1px;top:468.85px;width:15.6px;height:13.2px;border-radius:50%;border:1.75px solid #66dc24;box-sizing:border-box;"></div>
<div class="t" style="top:471.74px;font-size:4.8px;line-height:8px;color:#fff;left:641.90px;transform:translateX(-50%);">100</div>
<div class="r" style="left:734px;top:0"></div>
<div class="r" style="left:709.2px;top:468.85px;width:16.6px;height:13.4px;border-radius:50%;border:1.75px solid #66dc24;box-sizing:border-box;"></div>
<div class="t" style="top:471.74px;font-size:4.8px;line-height:8px;color:#fff;left:717.50px;transform:translateX(-50%);">100</div>
<div class="r" style="left:655.00px;top:469.35px;width:11.60px;height:6.20px;background:#9cd96a;"></div>
<div class="t" style="top:468.64px;font-size:4.8px;line-height:8px;color:#111;left:660.90px;transform:translateX(-50%);">0 ms</div>
<div class="t" style="top:475.35px;font-size:5.0px;line-height:8px;color:#fff;left:655.00px;">29 B/s</div>
<div class="r" style="left:0.00px;top:485.90px;width:732.00px;height:1.10px;background:#6a6a6a;"></div>
<div class="r" style="left:4.8px;top:494.95px;width:6.2px;height:4.9px;border-radius:50%;border:1.25px solid #4ee060;box-sizing:border-box;"></div>
<div class="t" style="top:494.75px;font-size:4.95px;line-height:8px;color:#fff;left:19.90px;">vdia.com/Administrator</div>
<div class="t" style="top:493.87px;font-size:5.4px;line-height:8px;color:#fff;left:98.20px;">MacBook Pro (3)</div>
<div class="t" style="top:493.88px;font-size:5.45px;line-height:8px;color:#fff;left:173.70px;">172.16.10.17</div>
<div class="t" style="top:493.87px;font-size:5.4px;line-height:8px;color:#fff;left:244.60px;">vdi8-desktop-2</div>
<div class="t" style="top:493.88px;font-size:5.45px;line-height:8px;color:#fff;left:315.60px;">vdi8-win10-desktop</div>
<div class="t" style="top:493.87px;font-size:5.3px;line-height:8px;color:#fff;right:213.20px;">8840</div>
<div class="t" style="top:493.87px;font-size:5.4px;line-height:8px;color:#fff;left:530.70px;">4/21/2021, 3:38:12 PM</div>
<div class="r" style="left:634.1px;top:490.85px;width:15.6px;height:13.2px;border-radius:50%;border:1.75px solid #66dc24;box-sizing:border-box;"></div>
<div class="t" style="top:493.74px;font-size:4.8px;line-height:8px;color:#fff;left:641.90px;transform:translateX(-50%);">100</div>
<div class="r" style="left:734px;top:0"></div>
<div class="r" style="left:709.2px;top:490.85px;width:16.6px;height:13.4px;border-radius:50%;border:1.75px solid #66dc24;box-sizing:border-box;"></div>
<div class="t" style="top:493.74px;font-size:4.8px;line-height:8px;color:#fff;left:717.50px;transform:translateX(-50%);">100</div>
<div class="r" style="left:655.00px;top:491.35px;width:11.60px;height:6.20px;background:#9cd96a;"></div>
<div class="t" style="top:490.64px;font-size:4.8px;line-height:8px;color:#111;left:660.90px;transform:translateX(-50%);">0 ms</div>
<div class="t" style="top:497.35px;font-size:5.0px;line-height:8px;color:#fff;left:655.00px;">49 B/s</div>
<div class="r" style="left:0.00px;top:508.00px;width:732.00px;height:1.10px;background:#6a6a6a;"></div>
<div class="r" style="left:4.8px;top:519.35px;width:6.2px;height:4.9px;border-radius:50%;border:1.25px solid #ff2a2a;box-sizing:border-box;"></div>
<div class="t" style="top:519.15px;font-size:4.95px;line-height:8px;color:#fff;left:19.90px;">vdia.com/user1</div>
<div class="t" style="top:518.27px;font-size:5.4px;line-height:8px;color:#fff;left:98.20px;">MacBook Pro (3)</div>
<div class="t" style="top:518.28px;font-size:5.45px;line-height:8px;color:#fff;left:173.70px;">172.16.10.17</div>
<div class="t" style="top:518.27px;font-size:5.4px;line-height:8px;color:#fff;left:244.60px;">VDI-IC-Time2</div>
<div class="t" style="top:518.28px;font-size:5.45px;line-height:8px;color:#fff;left:315.60px;">Win10-Timing</div>
<div class="t" style="top:518.26px;font-size:5.2px;line-height:8px;color:#fff;left:387.10px;">PCOIP</div>
<div class="t" style="top:518.27px;font-size:5.3px;line-height:8px;color:#fff;right:213.20px;">12878</div>
<div class="t" style="top:518.27px;font-size:5.4px;line-height:8px;color:#fff;left:530.70px;">5/3/2021, 8:27:24 AM</div>
<svg class="r" style="left:633px;top:514.35px" width="18" height="15" viewBox="0 0 18 15"><path d="M1.2,7.5 A7.7,6.4 0 0 1 16.8,7.5" fill="none" stroke="#66dc24" stroke-width="1.75"/><path d="M1.2,7.5 A7.7,6.4 0 0 0 16.8,7.5" fill="none" stroke="#f2b424" stroke-width="1.75"/></svg>
<div class="t" style="top:518.14px;font-size:4.8px;line-height:8px;color:#fff;left:641.90px;transform:translateX(-50%);">87</div>
<div class="r" style="left:734px;top:0"></div>
<div class="r" style="left:709.2px;top:515.25px;width:16.6px;height:13.4px;border-radius:50%;border:1.75px solid #66dc24;box-sizing:border-box;"></div>
<div class="t" style="top:518.14px;font-size:4.8px;line-height:8px;color:#fff;left:717.50px;transform:translateX(-50%);">100</div>
<div class="r" style="left:653.10px;top:511.75px;width:17.80px;height:7.10px;background:#9cd96a;"></div>
<div class="t" style="top:511.64px;font-size:4.8px;line-height:8px;color:#111;left:662.00px;transform:translateX(-50%);">118 ms</div>
<div class="t" style="top:518.14px;font-size:4.8px;line-height:8px;color:#fff;left:653.50px;">466.88</div>
<div class="t" style="top:524.84px;font-size:4.8px;line-height:8px;color:#fff;left:653.50px;">KB/s</div>
<div class="r" style="left:0.00px;top:534.80px;width:732.00px;height:1.00px;background:#474747;"></div>
<div class="r" style="left:5.20px;top:538.30px;width:48.10px;height:12.20px;background:#000;border-top:1px solid #6d879c;border-left:1px solid #2a2a2a;border-right:1px solid #2a2a2a;box-sizing:border-box;"></div>
<div class="t" style="top:540.53px;font-size:5.5px;line-height:8px;color:#fff;font-weight:bold;left:29.20px;transform:translateX(-50%);">Logon Duration</div>
<div class="t" style="top:540.42px;font-size:5.4px;line-height:8px;color:#fff;left:57.90px;">Session</div>
<div class="t" style="top:540.42px;font-size:5.4px;line-height:8px;color:#fff;left:86.30px;">Alarms</div>
<div class="t" style="top:540.42px;font-size:5.4px;line-height:8px;color:#fff;left:112.00px;">Dependent Services</div>
<div class="t" style="top:540.42px;font-size:5.4px;line-height:8px;color:#fff;left:169.70px;">Conversation</div>
<div class="t" style="top:540.42px;font-size:5.4px;line-height:8px;color:#fff;left:210.50px;">Network</div>
<div class="t" style="top:540.42px;font-size:5.4px;line-height:8px;color:#fff;left:239.70px;">CPU</div>
<div class="t" style="top:540.42px;font-size:5.4px;line-height:8px;color:#fff;left:259.80px;">Memory</div>
<div class="t" style="top:540.42px;font-size:5.4px;line-height:8px;color:#fff;left:288.00px;">Storage</div>
<div class="t" style="top:540.42px;font-size:5.4px;line-height:8px;color:#fff;left:316.20px;">Process</div>
<div class="r" style="left:5.20px;top:550.30px;width:726.80px;height:1.00px;background:#404040;"></div>
<div class="r" style="left:5.20px;top:551.30px;width:0.80px;height:90.70px;background:#2a2a2a;"></div>
<div class="r" style="left:6.00px;top:559.80px;width:726.00px;height:1.00px;background:#262626;"></div>
<div class="r" style="left:6.00px;top:570.10px;width:726.00px;height:1.00px;background:#3a3a3a;"></div>
<div class="r" style="left:6.00px;top:580.00px;width:726.00px;height:1.00px;background:#262626;"></div>
<div class="r" style="left:6.00px;top:590.80px;width:726.00px;height:1.00px;background:#3a3a3a;"></div>
<div class="r" style="left:6.00px;top:600.80px;width:726.00px;height:1.00px;background:#3a3a3a;"></div>
<div class="r" style="left:6.00px;top:611.00px;width:726.00px;height:1.00px;background:#1a1a1a;"></div>
<div class="r" style="left:6.00px;top:621.70px;width:726.00px;height:1.00px;background:#3a3a3a;"></div>
<div class="r" style="left:6.00px;top:631.80px;width:726.00px;height:1.00px;background:#3a3a3a;"></div>
<div class="t" style="top:551.43px;font-size:5.5px;line-height:8px;color:#fff;left:28.90px;">Logon Time</div>
<div class="t" style="top:551.43px;font-size:5.5px;line-height:8px;color:#fff;left:237.90px;">05/03/2021 08:27 AM</div>
<div class="t" style="top:561.23px;font-size:5.5px;line-height:8px;color:#fff;left:28.90px;">Logon Duration</div>
<div class="t" style="top:561.23px;font-size:5.5px;line-height:8px;color:#fff;left:237.90px;">12878 ms</div>
<div class="t" style="top:571.33px;font-size:5.5px;line-height:8px;color:#fff;left:37.00px;">Broker Duration</div>
<div class="t" style="top:571.33px;font-size:5.5px;line-height:8px;color:#fff;left:237.90px;">2234 ms</div>
<div class="t" style="top:581.73px;font-size:5.5px;line-height:8px;color:#fff;left:44.80px;">Agent prepare Duration</div>
<div class="t" style="top:581.73px;font-size:5.5px;line-height:8px;color:#fff;left:237.90px;">1050 ms</div>
<div class="t" style="top:592.03px;font-size:5.5px;line-height:8px;color:#fff;left:44.80px;">Protocol Startup Duration</div>
<div class="t" style="top:592.03px;font-size:5.5px;line-height:8px;color:#fff;left:237.90px;">1840 ms</div>
<div class="t" style="top:602.33px;font-size:5.5px;line-height:8px;color:#fff;left:44.80px;">Authentication Startup Duration</div>
<div class="t" style="top:602.33px;font-size:5.5px;line-height:8px;color:#fff;left:237.90px;">N/A</div>
<div class="t" style="top:612.83px;font-size:5.5px;line-height:8px;color:#fff;left:37.00px;">Agent Duration</div>
<div class="t" style="top:612.83px;font-size:5.5px;line-height:8px;color:#fff;left:237.90px;">11247 ms</div>
<div class="t" style="top:623.03px;font-size:5.5px;line-height:8px;color:#fff;left:44.80px;">Client Connect Wait Duration</div>
<div class="t" style="top:623.03px;font-size:5.5px;line-height:8px;color:#fff;left:237.90px;">2237 ms</div>
<div class="t" style="top:633.33px;font-size:5.5px;line-height:8px;color:#fff;left:44.80px;">Client Logon Duration</div>
<div class="t" style="top:633.33px;font-size:5.5px;line-height:8px;color:#fff;left:237.90px;">9109 ms</div>
<div class="r" style="left:374.00px;top:564.50px;width:354.80px;height:1.80px;background:#3b8fe0;"></div>
<div class="r" style="left:374.00px;top:575.10px;width:58.80px;height:1.80px;background:#f04a4a;"></div>
<div class="r" style="left:374.00px;top:585.00px;width:58.80px;height:1.80px;background:#f04a4a;"></div>
<div class="r" style="left:417.40px;top:595.90px;width:42.40px;height:1.80px;background:#f04a4a;"></div>
<div class="r" style="left:432.80px;top:616.30px;width:296.00px;height:1.80px;background:#45dd45;"></div>
<div class="r" style="left:432.80px;top:626.90px;width:58.10px;height:1.80px;background:#45dd45;"></div>
<div class="r" style="left:490.90px;top:636.50px;width:237.90px;height:1.80px;background:#45dd45;"></div>
<div class="r" style="left:0.00px;top:0.00px;width:735.00px;height:2.00px;background:#fff;"></div>
<div class="r" style="left:732.00px;top:0.00px;width:3.00px;height:642.00px;background:#fff;"></div>
<div class="r" style="left:732.00px;top:76.00px;width:3.00px;height:2.80px;background:#1f2e82;"></div>
<svg class="r" style="left:728px;top:10px" width="4" height="5" viewBox="0 0 4 5"><path d="M4,1.3 L2.5,2.2 L4,3.1 Z" fill="#eee"/></svg>
<svg class="r" style="left:728px;top:378.5px" width="4" height="5" viewBox="0 0 4 5"><path d="M2.2,1.5 L4,1.5 L4,3.2 Z" fill="#eee"/></svg>
</body></html>
